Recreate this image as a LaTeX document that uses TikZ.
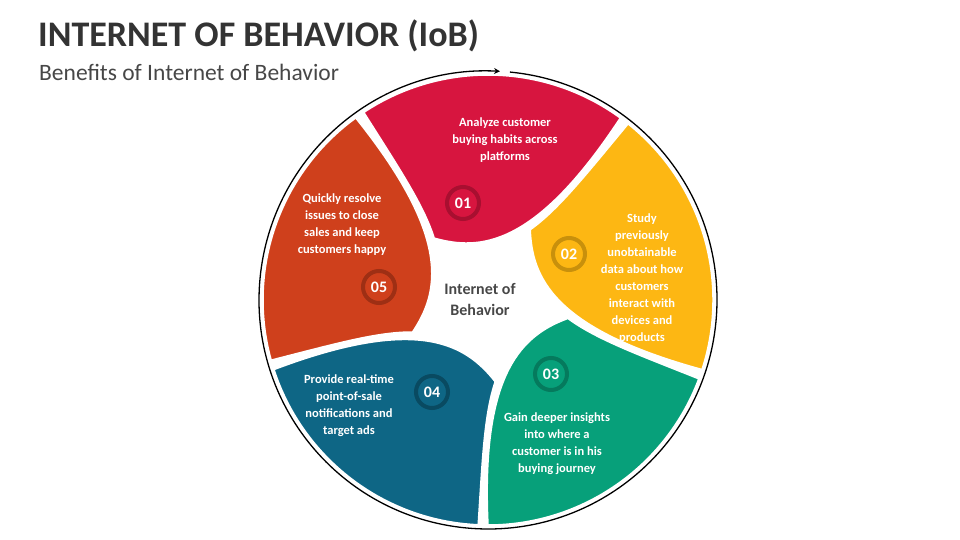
\documentclass[tikz,border=0pt]{standalone}
\usepackage{fontspec}
\setmainfont{Carlito}
\usetikzlibrary{arrows.meta}
\definecolor{cA}{HTML}{D7153F}\definecolor{dA}{HTML}{A80F30}
\definecolor{cB}{HTML}{FDB713}\definecolor{dB}{HTML}{C8900C}
\definecolor{cC}{HTML}{07A07A}\definecolor{dC}{HTML}{057A5D}
\definecolor{cD}{HTML}{0E6685}\definecolor{dD}{HTML}{094A61}
\definecolor{cE}{HTML}{CF401C}\definecolor{dE}{HTML}{9E2F14}
\definecolor{ttl}{HTML}{333333}
\newcommand\petalpath{(131:82) .. controls (100:50) and (48:70) .. (54:225) arc[start angle=54, end angle=123.5, radius=225] .. controls (124:160) and (124:115) .. (131:82) -- cycle}
\tikzset{
  txt/.style={text=white, font=\bfseries\fontsize{12.5}{17}\selectfont, align=center},
  numc/.style={circle, minimum size=32pt, inner sep=0pt, text=white, font=\bfseries\fontsize{16}{16}\selectfont, line width=4pt},
}
\begin{document}
\begin{tikzpicture}[x=1pt,y=1pt]
\useasboundingbox (0,0) rectangle (960,540);
\node[anchor=base west, inner sep=0, text=ttl, font=\bfseries\fontsize{36}{36}\selectfont] (title) at (38,493) {INTERNET OF BEHAVIOR (IoB)};
\node[anchor=base west, inner sep=0, text=ttl!90, font=\fontsize{23.5}{24}\selectfont] (sub) at (39,459) {Benefits of Internet of Behavior};
\begin{scope}[shift={(488,240)}]
  \draw[line width=1.3pt, -{Stealth[length=6pt,width=6pt]}] (84.5:229) arc[start angle=84.5, end angle=-273, radius=229] coordinate (tip);
  \foreach \c/\r in {cA/0, cB/-72, cC/-144, cD/-216, cE/-288}{
    \fill[\c, draw=white, line width=1.5pt, rotate=\r] \petalpath;
  }
\end{scope}
\node[numc, fill=cA, draw=dA] (n1) at (463,337) {01};
\node[numc, fill=cB, draw=dB] (n2) at (569,286) {02};
\node[numc, fill=cC, draw=dC] (n3) at (551,166) {03};
\node[numc, fill=cD, draw=dD] (n4) at (432,148) {04};
\node[numc, fill=cE, draw=dE] (n5) at (379,253) {05};
\node[txt] (t1) at (505,400) {Analyze customer\\buying habits across\\platforms};
\node[txt] (t2) at (642,261) {Study\\previously\\unobtainable\\data about how\\customers\\interact with\\devices and\\products};
\node[txt] (t3) at (557,96) {Gain deeper insights\\into where a\\customer is in his\\buying journey};
\node[txt] (t4) at (349,134) {Provide real-time\\point-of-sale\\notifications and\\target ads};
\node[txt] (t5) at (342,315) {Quickly resolve\\issues to close\\sales and keep\\customers happy};
\node[align=center, text=ttl!90, font=\bfseries\fontsize{16}{21}\selectfont] (c) at (480,240) {Internet of\\Behavior};
\end{tikzpicture}
\end{document}
